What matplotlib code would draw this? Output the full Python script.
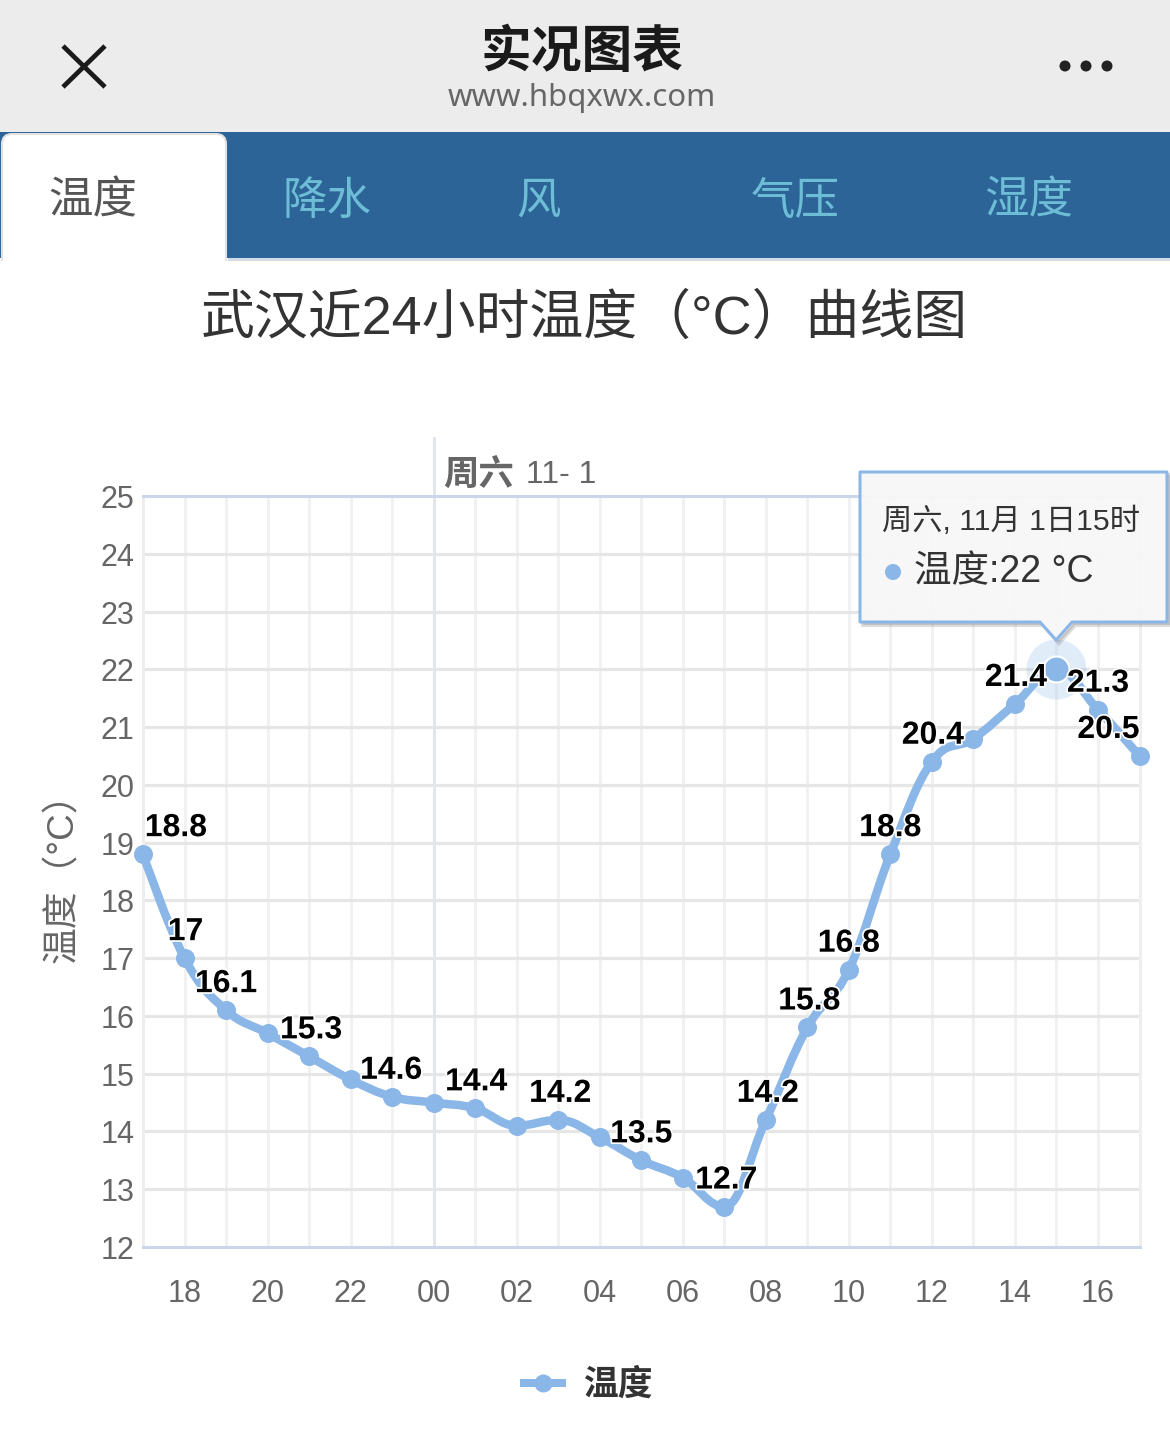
import matplotlib
matplotlib.use("Agg")
import matplotlib.pyplot as plt
import matplotlib.patheffects as pe
from matplotlib.path import Path
from matplotlib.patches import PathPatch, Rectangle, FancyBboxPatch, Polygon, Circle
from matplotlib.transforms import ScaledTranslation

plt.rcParams['font.family'] = ['Liberation Sans', 'Noto Sans CJK SC', 'DejaVu Sans']

hour_labels = ['18', '20', '22', '00', '02', '04', '06', '08', '10', '12', '14', '16']
hours = list(range(25))
temps = [18.8, 17.0, 16.1, 15.7, 15.3, 14.9, 14.6, 14.5, 14.4, 14.1, 14.2, 13.9, 13.5,
         13.2, 12.7, 14.2, 15.8, 16.8, 18.8, 20.4, 20.8, 21.4, 22.0, 21.3, 20.5]
labelled = [0, 1, 2, 4, 6, 8, 10, 12, 14, 15, 16, 17, 18, 19, 21, 23, 24]
y_ticks = list(range(12, 26))
tabs = ['降水', '风', '气压', '湿度']

W, H = 1170, 1436
LINE = '#8ab6e8'
GREY = '#666666'
px = 0.72  # points per pixel at dpi 100

fig = plt.figure(figsize=(W / 100, H / 100), dpi=100, facecolor='white')

# page furniture, in pixel coordinates
ui = fig.add_axes([0, 0, 1, 1], zorder=0)
ui.set_xlim(0, W)
ui.set_ylim(H, 0)
ui.axis('off')
ui.add_patch(Rectangle((0, 0), W, 132, fc='#ececec', ec='none'))
ui.add_patch(Rectangle((0, 132), W, 126, fc='#2c6497', ec='none'))
ui.add_patch(Rectangle((228, 258), W, 3, fc='#d3dce6', ec='none'))
ui.add_patch(FancyBboxPatch((10, 142), 208, 130, boxstyle='round,pad=8,rounding_size=10',
                            fc='white', ec='#e2e2e2', lw=1.5))
ui.add_patch(Rectangle((0, 261), W, 40, fc='white', ec='none'))
ui.plot([63, 105], [46, 87], color='#1a1a1a', lw=3.4, solid_capstyle='butt')
ui.plot([63, 105], [87, 46], color='#1a1a1a', lw=3.4, solid_capstyle='butt')
for dx in (1065, 1086, 1107):
    ui.add_patch(Circle((dx, 66), 5.5, fc='#222222', ec='none'))
ui.text(582, 53, '实况图表', fontsize=36.5, color='#1a1a1a', ha='center', va='center', fontweight='bold')
ui.text(582, 98, 'www.hbqxwx.com', fontsize=22.4, color=GREY, ha='center', va='center',
        family=['Noto Sans', 'DejaVu Sans'])
ui.text(93, 202, '温度', fontsize=32, color='#555555', ha='center', va='center')
for t, x in zip(tabs, (327, 538, 795, 1029)):
    ui.text(x, 202, t, fontsize=32, color='#6dbdd6', ha='center', va='center')
ui.text(584, 319, '武汉近24小时温度（°C）曲线图', fontsize=38.8, color='#333333', ha='center', va='center')
ui.text(64, 869, '温度（°C）', fontsize=26.5, color=GREY, rotation=90, ha='center', va='center')
ui.text(443, 475, '周六', fontsize=25.5, color=GREY, fontweight='bold', ha='left', va='center')
ui.text(526, 475, '11- 1', fontsize=23, color=GREY, ha='left', va='center')
ui.plot([520, 566], [1383, 1383], color=LINE, lw=8 * px, solid_capstyle='butt')
ui.plot([543], [1383], 'o', color=LINE, ms=18 * px, mew=0)
ui.text(583, 1385, '温度', fontsize=25, color='#333333', fontweight='bold', ha='left', va='center')

# chart area
ax = fig.add_axes([143 / W, 1 - 1247 / H, (1139.5 - 143) / W, (1247 - 496) / H], zorder=1)
ax.patch.set_alpha(0)
ax.set_xlim(0, 24)
ax.set_ylim(12, 25)
for side in ('left', 'right'):
    ax.spines[side].set_color('#eeeeee')
    ax.spines[side].set_linewidth(3 * px)
for side in ('top', 'bottom'):
    ax.spines[side].set_color('#ccd6eb')
    ax.spines[side].set_linewidth(3 * px)
ax.set_yticks(y_ticks)
ax.set_xticks(hours)
ax.set_xticklabels([hour_labels[(h - 1) // 2] if h % 2 else '' for h in hours])
ax.grid(axis='y', color='#e6e6e6', lw=3.2 * px)
ax.grid(axis='x', color='#f1f1f1', lw=3 * px)
ax.set_axisbelow(True)
ax.tick_params(length=0, labelsize=22, labelcolor=GREY)
ax.tick_params(axis='x', pad=23)
ax.tick_params(axis='y', pad=6)
down = ScaledTranslation(0, -0.5 / 100, fig.dpi_scale_trans)
for lab in ax.get_yticklabels():
    lab.set_transform(lab.get_transform() + down)
ax.plot([7, 7], [12, 26], color='#e3e6ee', lw=3 * px, clip_on=False, zorder=1)


def spline_path(xs, ys, smoothing=1.5):
    # same control points as a Highcharts spline
    verts = [(xs[0], ys[0])]
    codes = [Path.MOVETO]
    right = (xs[0], ys[0])
    for i in range(1, len(xs)):
        x, y = xs[i], ys[i]
        if i == len(xs) - 1:
            left = (x, y)
            new_right = (x, y)
        else:
            lx = (smoothing * x + xs[i - 1]) / (smoothing + 1)
            ly = (smoothing * y + ys[i - 1]) / (smoothing + 1)
            rx = (smoothing * x + xs[i + 1]) / (smoothing + 1)
            ry = (smoothing * y + ys[i + 1]) / (smoothing + 1)
            corr = (ry - ly) * (rx - x) / (rx - lx) + y - ry
            ly += corr
            ry += corr
            if ly > ys[i - 1] and ly > y:
                ly = max(ys[i - 1], y)
                ry = 2 * y - ly
            elif ly < ys[i - 1] and ly < y:
                ly = min(ys[i - 1], y)
                ry = 2 * y - ly
            if ry > ys[i + 1] and ry > y:
                ry = max(ys[i + 1], y)
                ly = 2 * y - ry
            elif ry < ys[i + 1] and ry < y:
                ry = min(ys[i + 1], y)
                ly = 2 * y - ry
            left = (lx, ly)
            new_right = (rx, ry)
        verts += [right, left, (x, y)]
        codes += [Path.CURVE4] * 3
        right = new_right
    return Path(verts, codes)


ax.add_patch(PathPatch(spline_path(hours, temps), fc='none', ec=LINE, lw=8.5 * px, clip_on=False, zorder=3))
ax.plot(hours, temps, 'o', color=LINE, ms=19 * px, mew=0, clip_on=False, zorder=4)
# hovered point
ax.plot([hours[22]], [temps[22]], 'o', color=LINE, alpha=0.25, ms=60 * px, mew=0, clip_on=False, zorder=2)
ax.plot([hours[22]], [temps[22]], 'o', color=LINE, ms=26 * px, mec='white', mew=1.5, clip_on=False, zorder=5)

nudge = {0: 33, 24: -31, 1: 1, 4: 2, 10: 2, 14: 2, 15: 2, 16: 2, 8: 1, 19: 1, 21: 1, 6: -1}
halo = [pe.withStroke(linewidth=2.5, foreground='white')]
for i in labelled:
    ax.annotate('%g' % temps[i], (hours[i], temps[i]),
                xytext=(nudge.get(i, 0) * px, 26 * px), textcoords='offset points',
                ha='center', va='center', fontsize=23, fontweight='bold', color='black',
                path_effects=halo, annotation_clip=False, zorder=6)

# tooltip on top of everything
tip = fig.add_axes([0, 0, 1, 1], zorder=2)
tip.set_xlim(0, W)
tip.set_ylim(H, 0)
tip.axis('off')
tip.patch.set_alpha(0)
box = [(860, 472), (1167, 472), (1167, 622), (1072, 622), (1056, 640), (1040, 622), (860, 622)]
tip.add_patch(Polygon([(x + 3, y + 3) for x, y in box], closed=True, fc='#777777', alpha=0.25, ec='#777777', lw=3))
tip.add_patch(Polygon(box, closed=True, fc='#f9f9f9', alpha=0.95, ec='none', joinstyle='round'))
tip.add_patch(Polygon(box, closed=True, fc='none', ec=LINE, lw=3 * px, joinstyle='round'))
tip.text(882, 521, '周六, 11月 1日15时', fontsize=21.8, color='#333333', ha='left', va='center')
tip.add_patch(Circle((893, 572), 8, fc=LINE, ec='none'))
tip.text(914, 572, '温度:22 °C', fontsize=27, color='#333333', ha='left', va='center')

fig.savefig('out.png', dpi=100)
